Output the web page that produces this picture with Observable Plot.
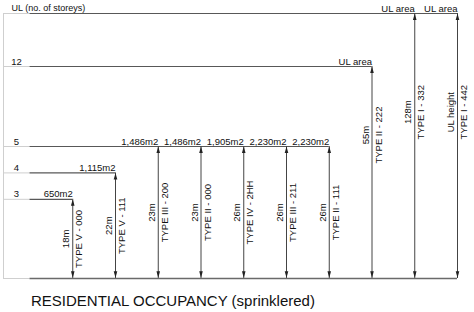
<!DOCTYPE html>
<html><head><meta charset="utf-8">
<script src="https://cdn.jsdelivr.net/npm/d3@7"></script>
<script src="https://cdn.jsdelivr.net/npm/@observablehq/plot@0.6"></script>
<style>
body{margin:0;background:#fff;font-family:"Liberation Sans",Arial,sans-serif;}
#chart svg{display:block;}
#title{font-size:15px;color:#111;padding-left:31px;line-height:17px;padding-top:4px;}
</style></head><body><div id="chart"></div><div id="title">RESIDENTIAL OCCUPANCY (sprinklered)</div>
<script>
// Data
const types = ["TYPE V - 000","TYPE V - 111","TYPE III - 200","TYPE II - 000","TYPE IV - 2HH","TYPE III - 211","TYPE II - 111","TYPE II - 222","TYPE I - 332","TYPE I - 442"];
const heights = ["18m","22m","23m","23m","26m","26m","26m","55m","128m","UL height"];
const storeys = [3,4,5,5,5,5,5,12,"UL","UL"];
const areas = ["650m2","1,115m2","1,486m2","1,486m2","1,905m2","2,230m2","2,230m2","UL area","UL area","UL area"];
const levelValues = [3,4,5,12,"UL"];
const levelLabels = ["3","4","5","12","UL (no. of storeys)"];
const UL_POS = 16; // stand-in position for "unlimited" storeys on the broken scale

const num = s => s === "UL" ? UL_POS : s;
const bars = types.map((t, i) => ({
  i: i + 1, type: t, height: heights[i], area: areas[i], level: num(storeys[i])
}));
bars.forEach(b => b.mid = b.level / 2);
const levels = levelValues.map((v, k) => {
  const lv = num(v);
  const last = d3.max(bars.filter(b => b.level === lv), b => b.i);
  return {level: lv, label: levelLabels[k], last};
});
const AX = -0.62;
const dark = "#585858";
const light = "#cfcfcf";
const fs = 9.5;

const headUp = {draw(ctx) { ctx.moveTo(0, 0); ctx.lineTo(-1.8, 6.5); ctx.lineTo(1.8, 6.5); ctx.closePath(); }};
const headDown = {draw(ctx) { ctx.moveTo(0, 0); ctx.lineTo(-1.8, -6.5); ctx.lineTo(1.8, -6.5); ctx.closePath(); }};

const plot = Plot.plot({
  width: 474, height: 288,
  margin: 0,
  x: {type: "linear", domain: [AX, 10], range: [3, 457], axis: null},
  y: {type: "linear", domain: [0, 5, 12, UL_POS], range: [278, 146, 66, 13], axis: null},
  style: {fontFamily: "'Liberation Sans', Arial, sans-serif", background: "#fff"},
  marks: [
    // light left axis
    Plot.ruleX([0], {x: () => AX, y1: () => 0, y2: () => UL_POS, stroke: light, strokeWidth: 1}),
    Plot.ruleY([{level: 0}, ...levels], {y: "level", x1: () => AX, x2: () => 0, stroke: light, strokeWidth: 1}),
    // level lines
    Plot.ruleY(levels, {y: "level", x1: () => 0, x2: "last", stroke: dark, strokeWidth: 1.2}),
    // vertical dimension lines
    Plot.ruleX(bars, {x: "i", y1: () => 0, y2: "level", stroke: "#444", strokeWidth: 1}),
    // base line
    Plot.ruleY([0], {x1: () => 0, x2: () => 10, stroke: "#6a6a6a", strokeWidth: 1.6}),
    // arrow heads
    Plot.dot(bars, {x: "i", y: "level", symbol: headUp, fill: "#222", stroke: "none", r: 3}),
    Plot.dot(bars, {x: "i", y: () => 0, symbol: headDown, fill: "#222", stroke: "none", r: 3, dy: -0.8}),
    // vertical labels
    Plot.text(bars, {x: "i", y: "mid", text: "height", rotate: -90, dx: -6.5, fontSize: fs, fill: "#111"}),
    Plot.text(bars, {x: "i", y: "mid", text: "type", rotate: -90, dx: 6.5, fontSize: fs, fill: "#111"}),
    // area labels
    Plot.text(bars, {x: "i", y: "level", text: "area", textAnchor: "end", lineAnchor: "bottom", dy: -2, fontSize: fs, fill: "#111"}),
    // level labels
    Plot.text(levels.filter(d => d.label !== levelLabels[4]), {x: () => AX, y: "level", text: "label", dx: 13, textAnchor: "middle", lineAnchor: "bottom", dy: -2, fontSize: fs, fill: "#111"}),
    Plot.text(levels.filter(d => d.label === levelLabels[4]), {x: () => AX, y: "level", text: "label", dx: 8, textAnchor: "start", lineAnchor: "bottom", dy: -2.5, fontSize: 9, fill: "#111"})
  ]
});
document.getElementById("chart").appendChild(plot);
</script>
</body></html>
